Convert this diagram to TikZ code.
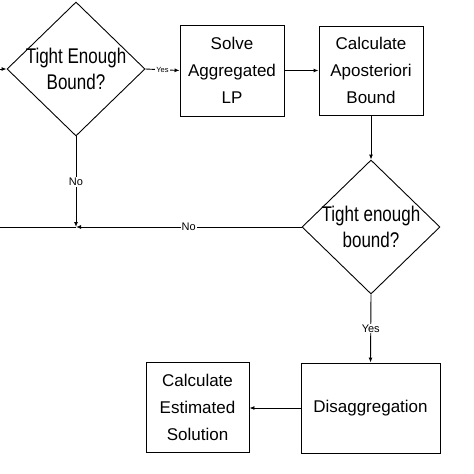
\documentclass[tikz,border=0pt]{standalone}
\usepackage{fontspec}
\setmainfont{Liberation Sans}
\usetikzlibrary{shapes.geometric,arrows.meta}

\begin{document}
\begin{tikzpicture}[x=1pt,y=1pt,line width=0.9pt]
\tikzstyle{every node}+=[inner sep=0pt]
\tikzstyle{box}=[draw,rectangle,align=center,font=\fontsize{17}{27}\selectfont]
\tikzstyle{decision}=[draw,diamond,minimum width=138pt,minimum height=134pt]
\tikzstyle{dtext}=[align=center,font=\fontsize{17}{21}\selectfont,yscale=1.25,transform shape]
\tikzstyle{lab}=[fill=white,inner sep=1pt,font=\fontsize{11}{13}\selectfont]
\tikzstyle{arr}=[-{Latex[length=5pt,width=4pt]}]

\useasboundingbox (0,0) rectangle (474,-474);

\draw (76,-69) node[decision,label={[dtext]center:Tight Enough\\Bound?}] (d1) {};

\draw (232,-70.5) node[box,minimum width=104pt,minimum height=91pt] (solve) {Solve\\Aggregated\\LP};

\draw (371,-70.5) node[box,minimum width=104pt,minimum height=89pt] (apost) {Calculate\\Aposteriori\\Bound};

\draw (371,-227) node[decision,label={[dtext]center:Tight enough\\bound?}] (d2) {};

\draw (370.5,-408) node[box,minimum width=139pt,minimum height=90pt] (disagg) {Disaggregation};

\draw (197.5,-407) node[box,minimum width=103pt,minimum height=90pt] (estim) {Calculate\\Estimated\\Solution};

\coordinate (in1) at (0,-69);
\coordinate (m) at (76,-227);
\coordinate (out) at (0,-227);

\draw [arr] (in1) -- (d1.west);
\draw [arr] (d1.east) -- node[lab,font=\fontsize{7.5}{9}\selectfont] {Yes} (solve.west);
\draw [arr] (solve.east) -- (apost.west);
\draw [arr] (apost.south) -- (d2.north);
\draw [arr] (d2.west) -- node[lab] {No} (m);
\draw (m) -- (out);
\draw [arr] (d1.south) -- node[lab] {No} (m);
\draw [arr] (d2.south) -- node[lab] {Yes} (disagg.north);
\draw [arr] (disagg.west) -- (estim.east |- disagg.west);
\end{tikzpicture}
\end{document}
